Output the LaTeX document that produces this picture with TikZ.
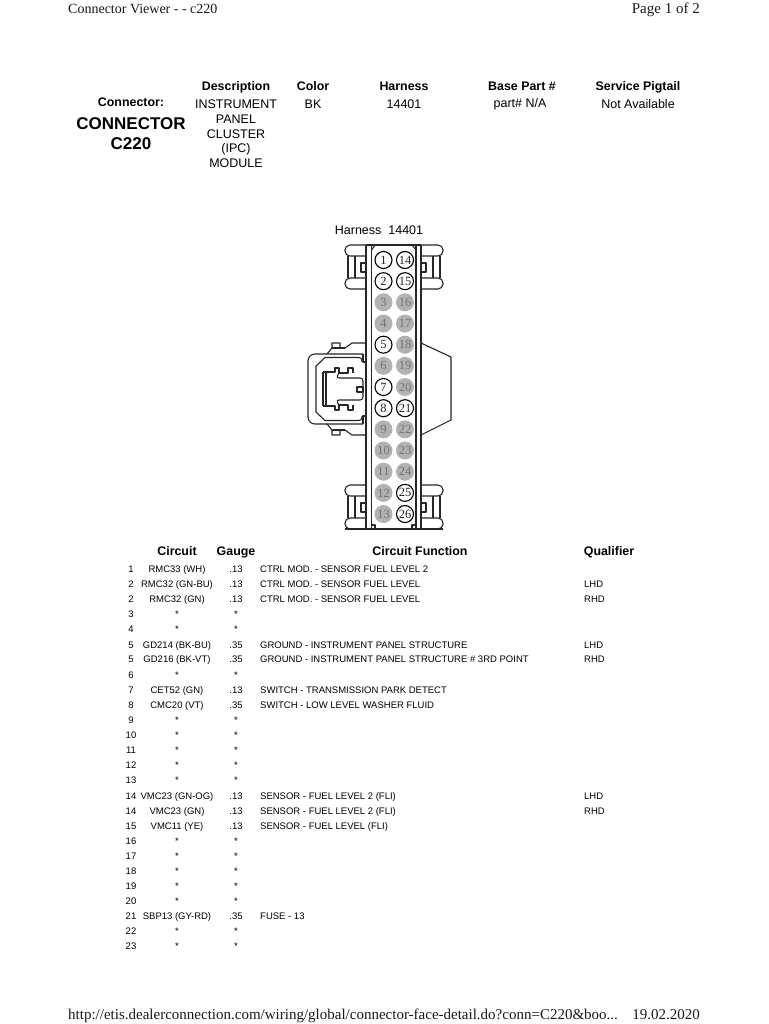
\documentclass[tikz,border=0pt]{standalone}
\usepackage{fontspec}
\setmainfont{Liberation Sans}
\newfontfamily\pageserif{Liberation Serif}
\usepackage{tikz}
\usetikzlibrary{calc,positioning}
\tikzset{
	headcell/.style={font=\fontsize{12.4}{14}\selectfont\bfseries, inner sep=0pt, text height=12pt, text depth=3pt},
	bodycell/.style={font=\fontsize{12.5}{14.8}\selectfont, inner sep=0pt, align=center},
	pagetext/.style={font=\fontsize{14}{16}\pageserif, inner sep=0pt, text=black!90, text height=14pt, text depth=3pt},
	foottext/.style={pagetext, font=\fontsize{15}{17}\pageserif},
	rowcell/.style={font=\fontsize{9.5}{11}\selectfont, inner sep=0pt, text height=9pt, text depth=2pt},
	pinused/.style={circle, draw, line width=1.1pt, fill=white, minimum size=17pt, inner sep=0pt, font=\fontsize{12.5}{12.5}\pageserif, text=black!85},
	pinfree/.style={circle, fill=black!30, minimum size=18pt, inner sep=0pt, font=\fontsize{12.5}{12.5}\pageserif, text=black!55},
	shell/.style={line width=1.1pt, black!85, line join=round},
}
\begin{document}
\begin{tikzpicture}[x=1pt,y=-1pt]
	\useasboundingbox (0,0) rectangle (768,1024);
	\fill[white] (0,0) rectangle (768,1024);
	% page head and foot
	\node[pagetext, anchor=west] (viewer) at (68,8) {Connector Viewer - - c220};
	\node[foottext, anchor=east] (page) at (700,8) {Page 1 of 2};
	\node[foottext, anchor=west] (url) at (68,1014) {http://etis.dealerconnection.com/wiring/global/connector-face-detail.do?conn=C220\&boo...};
	\node[foottext, anchor=east] (date) at (700,1014) {19.02.2020};
	% connector head
	\node[headcell] (connlabel) at (131,102) {Connector:};
	\node[font=\fontsize{17}{20.5}\selectfont\bfseries, align=center, inner sep=0pt] (connname) at (131,133.5) {CONNECTOR\\C220};
	\node[headcell] (deschead) at (236,86) {Description};
	\node[headcell] (colorhead) at (313,86) {Color};
	\node[headcell] (harnhead) at (404,86) {Harness};
	\node[headcell] (basehead) at (522,86) {Base Part \#};
	\node[headcell] (pighead) at (638,86) {Service Pigtail};
	\node[bodycell, anchor=north] (descval) at (236,99.5) {INSTRUMENT\\PANEL\\CLUSTER\\(IPC)\\MODULE};
	\node[bodycell] (colorval) at (313,104.5) {BK};
	\node[bodycell] (harnval) at (404,104.5) {14401};
	\node[bodycell] (baseval) at (520,104.5) {part\# N/A};
	\node[bodycell] (pigval) at (638,104.5) {Not Available};
	\node[bodycell] (harnface) at (379,230.5) {Harness\ \ 14401};
	% latches
	\foreach \ytop in {245,485} {
		\draw[shell, rounded corners=5pt] (366,\ytop) -- (345,\ytop) -- (345,\ytop+11) -- (366,\ytop+11);
		\draw[shell, rounded corners=5pt] (366,\ytop+33) -- (345,\ytop+33) -- (345,\ytop+44) -- (366,\ytop+44);
		\draw[shell, rounded corners=5pt] (421,\ytop) -- (443,\ytop) -- (443,\ytop+11) -- (421,\ytop+11);
		\draw[shell, rounded corners=5pt] (421,\ytop+33) -- (443,\ytop+33) -- (443,\ytop+44) -- (421,\ytop+44);
		\draw[shell] (348,\ytop+11) -- (348,\ytop+33) (355,\ytop+11) -- (355,\ytop+33);
		\draw[shell] (440,\ytop+11) -- (440,\ytop+33) (433,\ytop+11) -- (433,\ytop+33);
		\draw[shell] (366,\ytop+18) -- (361,\ytop+18) -- (361,\ytop+27) -- (366,\ytop+27);
		\draw[shell] (421,\ytop+18) -- (426,\ytop+18) -- (426,\ytop+27) -- (421,\ytop+27);
	}
	% body
	\draw[shell] (366,245) -- (421,245) (345,529) -- (443,529);
	\draw[shell] (366,245) -- (366,529) (371.5,245) -- (371.5,529);
	\draw[shell] (416,245) -- (416,529) (421,245) -- (421,529);
	\draw[shell] (371.5,250) -- (375,245) (416,250) -- (412,245);
	\draw[shell] (371.5,525) -- (375,525) -- (375,529) (416,525) -- (412,525) -- (412,529);
	% wedge
	\draw[shell] (421,343) -- (451,357) -- (451,420) -- (421,435);
	% left clip
	\draw[shell, rounded corners=7pt] (363,354) -- (308,354) -- (308,424) -- (363,424);
	\draw[shell] (363,354) -- (363,362) -- (366,362) (363,424) -- (363,416) -- (366,416);
	\draw[shell, rounded corners=3pt] (325,357.5) -- (362,357.5) -- (362,362);
	\draw[shell, rounded corners=3pt] (325,420.5) -- (362,420.5) -- (362,416);
	\draw[shell] (325,357.5) -- (316,366) -- (316,412) -- (325,420.5);
	\draw[shell] (327,354) -- (332,348) -- (332,343) -- (340,343) -- (340,348) -- (345,348) -- (352,343) -- (366,343);
	\draw[shell] (327,424) -- (332,430) -- (332,435) -- (340,435) -- (340,430) -- (345,430) -- (352,435) -- (366,435);
	\draw[shell] (332,348) -- (345,348) (332,430) -- (345,430);
	\draw[shell] (323,372) -- (335,372) -- (335,368) -- (339,368) -- (339,373) -- (348,373) -- (348,368) -- (353,368) -- (353,373);
	\draw[shell] (323,406) -- (335,406) -- (335,410) -- (339,410) -- (339,405) -- (348,405) -- (348,410) -- (353,410) -- (353,405);
	\draw[shell] (323,372) -- (323,406) (326,372) -- (326,406);
	\draw[shell, rounded corners=3pt] (339,373) -- (336,378) -- (363,378) -- (363,400) -- (336,400) -- (339,405);
	\draw[shell] (357,387) rectangle (363,392);
	% pins
	\foreach \pinno/\pinkind in {1/pinused,2/pinused,3/pinfree,4/pinfree,5/pinused,6/pinfree,7/pinused,8/pinused,9/pinfree,10/pinfree,11/pinfree,12/pinfree,13/pinfree} {
		\node[\pinkind] (pin\pinno) at (383.5,{260+21.17*(\pinno-1)}) {\pinno};
	}
	\foreach \pinno/\pinkind in {14/pinused,15/pinused,16/pinfree,17/pinfree,18/pinfree,19/pinfree,20/pinfree,21/pinused,22/pinfree,23/pinfree,24/pinfree,25/pinused,26/pinused} {
		\node[\pinkind] (pin\pinno) at (405,{260+21.17*(\pinno-14)}) {\pinno};
	}
	% table head
	\node[headcell] (circhead) at (177,551) {Circuit};
	\node[headcell] (gaugehead) at (236,551) {Gauge};
	\node[headcell] (funchead) at (420,551) {Circuit Function};
	\node[headcell] (qualhead) at (609,551) {Qualifier};
	% table rows
	\foreach \rowy/\rowno/\rowcirc/\rowgauge/\rowfunc/\rowqual [count=\rowi] in {
		569/1/RMC33 (WH)/.13/CTRL MOD. - SENSOR FUEL LEVEL 2/,
		584/2/RMC32 (GN-BU)/.13/CTRL MOD. - SENSOR FUEL LEVEL/LHD,
		599/2/RMC32 (GN)/.13/CTRL MOD. - SENSOR FUEL LEVEL/RHD,
		614/3/*/*//,
		629/4/*/*//,
		645/5/GD214 (BK-BU)/.35/GROUND - INSTRUMENT PANEL STRUCTURE/LHD,
		659/5/GD216 (BK-VT)/.35/GROUND - INSTRUMENT PANEL STRUCTURE \# 3RD POINT/RHD,
		675/6/*/*//,
		690/7/CET52 (GN)/.13/SWITCH - TRANSMISSION PARK DETECT/,
		705/8/CMC20 (VT)/.35/SWITCH - LOW LEVEL WASHER FLUID/,
		720/9/*/*//,
		735/10/*/*//,
		750/11/*/*//,
		765/12/*/*//,
		780/13/*/*//,
		796/14/VMC23 (GN-OG)/.13/SENSOR - FUEL LEVEL 2 (FLI)/LHD,
		811/14/VMC23 (GN)/.13/SENSOR - FUEL LEVEL 2 (FLI)/RHD,
		826/15/VMC11 (YE)/.13/SENSOR - FUEL LEVEL (FLI)/,
		841/16/*/*//,
		856/17/*/*//,
		871/18/*/*//,
		886/19/*/*//,
		901/20/*/*//,
		916/21/SBP13 (GY-RD)/.35/FUSE - 13/,
		931/22/*/*//,
		946/23/*/*//} {
		\node[rowcell] (no\rowi) at (131,\rowy) {\rowno};
		\node[rowcell] (circ\rowi) at (177,\rowy) {\rowcirc};
		\node[rowcell] (gauge\rowi) at (236,\rowy) {\rowgauge};
		\node[rowcell, anchor=west] (func\rowi) at (260,\rowy) {\rowfunc};
		\node[rowcell, anchor=west] (qual\rowi) at (584,\rowy) {\rowqual};
	}
\end{tikzpicture}
\end{document}
